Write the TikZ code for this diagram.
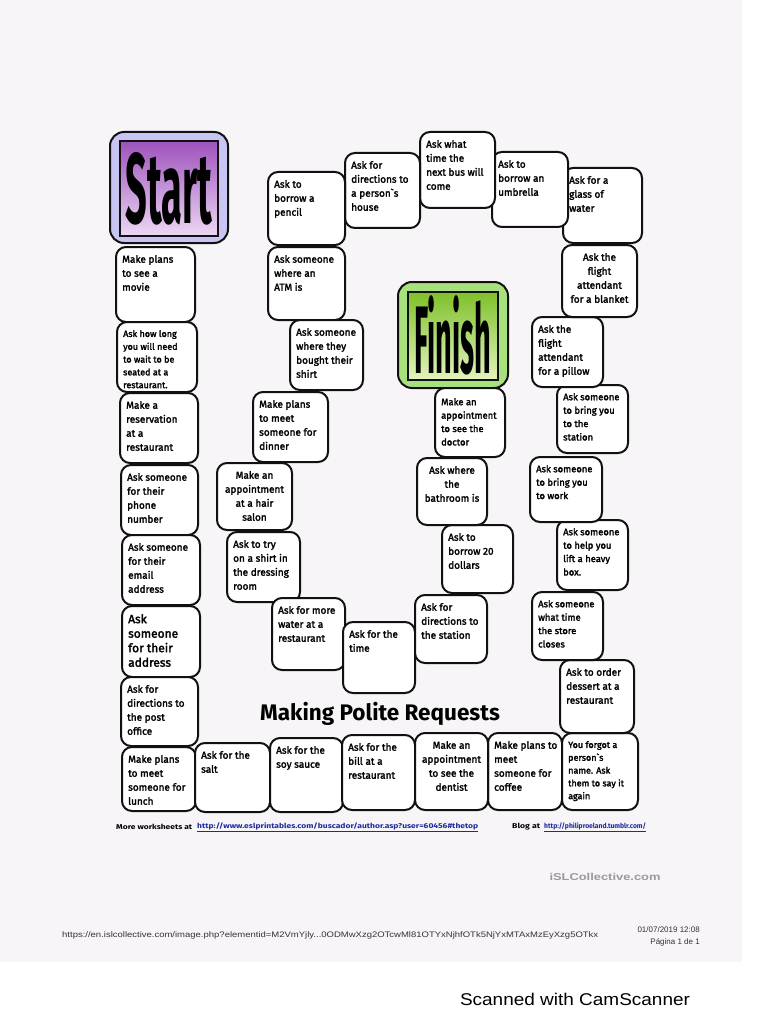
\documentclass[tikz,border=0pt]{standalone}
\usepackage{fontspec}
\usepackage{graphicx}
\setmainfont{Fira Sans}
\newfontfamily\cardfont{Fira Sans}[FakeBold=2.2]
\newfontfamily\scanfont{Liberation Sans}
\usetikzlibrary{positioning,fit}
\definecolor{paper}{HTML}{F7F5F7}
\definecolor{edge}{HTML}{111111}
\definecolor{lilac}{HTML}{C9C5F3}
\definecolor{plumtop}{HTML}{9E52BC}
\definecolor{plumlow}{HTML}{ECD8F3}
\definecolor{limeedge}{HTML}{A8E07E}
\definecolor{limetop}{HTML}{7FC02A}
\definecolor{limelow}{HTML}{E2F4BC}
\definecolor{link}{HTML}{1F2A9C}
\definecolor{stamp}{HTML}{9A9A9A}
\definecolor{print}{HTML}{333333}
\newcommand{\fitw}[2]{\resizebox{#1}{\height}{#2}}
\tikzset{
  card/.style    = {draw=edge, fill=white, line width=2pt, rounded corners=10pt, inner sep=0pt},
  frame/.style   = {draw=edge, line width=2pt, rounded corners=14pt, inner sep=0pt},
  square/.style  = {draw=edge, line width=2.4pt, inner sep=0pt},
  txt/.style     = {font=\fontsize{10}{14}\selectfont\cardfont, align=left, inner sep=0pt, anchor=north west},
  txtm/.style    = {font=\fontsize{9.4}{13.4}\selectfont\cardfont, align=left, inner sep=0pt, anchor=north west},
  txts/.style    = {font=\fontsize{9}{12.8}\selectfont\cardfont, align=left, inner sep=0pt, anchor=north west},
  txtl/.style    = {font=\fontsize{12}{14.5}\selectfont\cardfont, align=left, inner sep=0pt, anchor=north west},
  txtc/.style    = {font=\fontsize{10}{14}\selectfont\cardfont, align=center, inner sep=0pt, anchor=north},
  bigword/.style = {font=\fontsize{60}{60}\selectfont\bfseries, text=black, inner sep=0pt},
  title/.style   = {font=\fontsize{22.5}{26}\selectfont\bfseries, text=black, inner sep=0pt},
  foot/.style    = {font=\fontsize{7}{8}\selectfont\bfseries, text=black, inner sep=0pt, anchor=west},
  footlink/.style= {font=\fontsize{7}{8}\selectfont\bfseries, text=link, inner sep=0pt, anchor=west},
  scan/.style    = {font=\fontsize{8}{9}\selectfont\scanfont, text=print, inner sep=0pt},
}
\begin{document}
\begin{tikzpicture}[x=1pt,y=-1pt]
\path[use as bounding box] (0,0) rectangle (768,1024);
\fill[paper] (0,0) rectangle (742,962);

% ---- start and finish ---------------------------------------------------
\node[frame, fill=lilac, fit={(110,132) (228,243)}] (startbox) {};
\node[square, top color=plumtop, bottom color=plumlow, fit={(120,141) (218,236)}] (startsq) {};
\node[bigword] (startword) at (startsq.center) {\scalebox{0.633}[1.667]{Start}};

\node[frame, fill=limeedge, fit={(398,282) (508,388)}] (finishbox) {};
\node[square, top color=limetop, bottom color=limelow, fit={(408,292) (498,380)}] (finishsq) {};
\node[bigword] (finishword) at ([yshift=1]finishsq.center) {\scalebox{0.483}[1.6]{Finish}};

% ---- the track ----------------------------------------------------------
\foreach \i/\l/\t/\r/\b/\fs/\txt in {%
  1/116/247/195/322/txt/{Make plans\\to see a\\movie},
  2/117/322/197/392/txts/{Ask how long\\you will need\\to wait to be\\seated at a\\restaurant.},
  3/120/393/198/463/txt/{Make a\\reservation\\at a\\restaurant},
  4/121/465/198/535/txt/{Ask someone\\for their\\phone\\number},
  5/122/535/200/605/txt/{Ask someone\\for their\\email\\address},
  6/122/606/200/677/txtl/{Ask\\someone\\for their\\address},
  7/121/677/198/746/txt/{Ask for\\directions to\\the post\\office},
  8/122/747/196/811/txt/{Make plans\\to meet\\someone for\\lunch},
  9/195/743/270/812/txt/{Ask for the\\salt},
  10/270/738/343/812/txt/{Ask for the\\soy sauce},
  11/342/735/415/810/txt/{Ask for the\\bill at a\\restaurant},
  13/488/733/562/810/txt/{Make plans to\\meet\\someone for\\coffee},
  14/562/733/638/810/txts/{You forgot a\\person`s\\name. Ask\\them to say it\\again},
  15/560/660/634/733/txt/{Ask to order\\dessert at a\\restaurant},
  16/532/592/603/660/txtm/{Ask someone\\what time\\the store\\closes},
  17/557/520/628/590/txtm/{Ask someone\\to help you\\lift a heavy\\box.},
  18/530/457/602/522/txtm/{Ask someone\\to bring you\\to work},
  19/557/385/628/453/txtm/{Ask someone\\to bring you\\to the\\station},
  20/532/317/603/387/txt/{Ask the\\flight\\attendant\\for a pillow},
  22/563/168/642/243/txt/{Ask for a\\glass of\\water},
  23/492/152/568/227/txt/{Ask to\\borrow an\\umbrella},
  24/420/132/495/208/txt/{Ask what\\time the\\next bus will\\come},
  25/345/153/420/228/txt/{Ask for\\directions to\\a person`s\\house},
  26/268/172/345/245/txt/{Ask to\\borrow a\\pencil},
  27/268/247/345/320/txt/{Ask someone\\where an\\ATM is},
  28/290/320/363/390/txt/{Ask someone\\where they\\bought their\\shirt},
  29/253/392/328/462/txt/{Make plans\\to meet\\someone for\\dinner},
  31/227/532/300/602/txt/{Ask to try\\on a shirt in\\the dressing\\room},
  32/272/598/345/670/txt/{Ask for more\\water at a\\restaurant},
  33/343/622/415/693/txt/{Ask for the\\time},
  34/415/595/487/663/txt/{Ask for\\directions to\\the station},
  35/442/525/513/593/txt/{Ask to\\borrow 20\\dollars}}{%
  \node[card, fit={(\l,\t) (\r,\b)}] (c\i) {};
  \node[\fs] (t\i) at ([shift={(7,9)}]c\i.north west) {\txt};
}
\node[card, fit={(435,388) (505,457)}] (c37) {};
\node[txtm] (t37) at ([shift={(7,11)}]c37.north west) {Make an\\appointment\\to see the\\doctor};

\foreach \i/\l/\t/\r/\b/\txt in {%
  12/415/733/488/810/{Make an\\appointment\\to see the\\dentist},
  21/562/245/637/317/{Ask the\\flight\\attendant\\for a blanket},
  30/217/463/292/530/{Make an\\appointment\\at a hair\\salon},
  36/417/458/487/525/{Ask where\\the\\bathroom is}}{%
  \node[card, fit={(\l,\t) (\r,\b)}] (c\i) {};
  \node[txtc] (t\i) at ([shift={(0,9)}]c\i.north) {\txt};
}

\node[title] (heading) at (380,714) {Making Polite Requests};

% ---- footer -------------------------------------------------------------
\node[foot] (more) at (116,827) {\fitw{76pt}{More worksheets at}};
\node[footlink] (site) at (197,827) {\fitw{281pt}{\underline{http://www.eslprintables.com/buscador/author.asp?user=60456\#thetop}}};
\node[foot] (blog) at (512,827) {\fitw{28pt}{Blog at}};
\node[footlink] (blogurl) at (544,827) {\fitw{102pt}{\underline{http://philiproeland.tumblr.com/}}};

\node[font=\fontsize{10}{12}\selectfont\scanfont\bfseries, text=stamp, inner sep=0pt] (isl) at (605,877) {\fitw{111pt}{iSLCollective.com}};

\node[scan, anchor=west] (printurl) at (62,935) {\fitw{536pt}{https://en.islcollective.com/image.php?elementid=M2VmYjly...0ODMwXzg2OTcwMl81OTYxNjhfOTk5NjYxMTAxMzEyXzg5OTkx}};
\node[scan, anchor=east] (printdate) at (700,930) {01/07/2019 12:08};
\node[scan, anchor=east] (printpage) at (700,942) {Página 1 de 1};

\node[font=\fontsize{17}{20}\selectfont\scanfont, text=black, inner sep=0pt] (camscan) at (575,999) {\fitw{230pt}{Scanned with CamScanner}};

\end{tikzpicture}
\end{document}
